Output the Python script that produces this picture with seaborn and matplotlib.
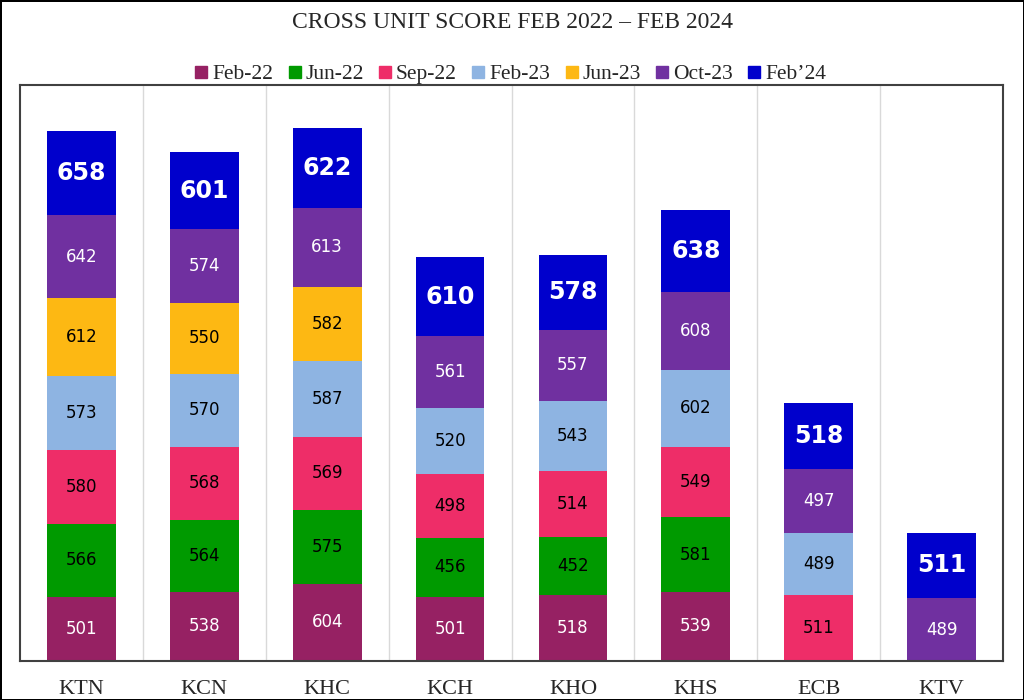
import matplotlib
matplotlib.use("Agg")
import matplotlib.pyplot as plt
import seaborn as sns
import numpy as np

# Datos del gráfico (0 = sin dato)
unidades = ["KTN", "KCN", "KHC", "KCH", "KHO", "KHS", "ECB", "KTV"]
series = ["Feb-22", "Jun-22", "Sep-22", "Feb-23", "Jun-23", "Oct-23", "Feb\u201924"]

feb22 = [501, 538, 604, 501, 518, 539, 0, 0]
jun22 = [566, 564, 575, 456, 452, 581, 0, 0]
sep22 = [580, 568, 569, 498, 514, 549, 511, 0]
feb23 = [573, 570, 587, 520, 543, 602, 489, 0]
jun23 = [612, 550, 582, 0, 0, 0, 0, 0]
oct23 = [642, 574, 613, 561, 557, 608, 497, 489]
feb24 = [658, 601, 622, 610, 578, 638, 518, 511]

valores = [feb22, jun22, sep22, feb23, jun23, oct23, feb24]
colores = ["#962163", "#009A00", "#EE2D68", "#8EB4E2", "#FDB813", "#7030A0", "#0000CC"]
color_texto = ["white", "black", "black", "black", "black", "white", "white"]

sns.set_style("white")
plt.rcParams["font.family"] = ["DejaVu Sans"]

fig = plt.figure(figsize=(10.24, 7), dpi=100, edgecolor="black", linewidth=2)
ax = fig.add_axes([20 / 1024, 39 / 700, 983 / 1024, 576 / 700])

base = np.zeros(len(unidades))
for nombre, vals, col, tc in zip(series, valores, colores, color_texto):
    vals = np.array(vals, dtype=float)
    sns.barplot(x=unidades, y=vals, bottom=base, color=col, width=0.56,
                saturation=1, ax=ax, label=nombre, linewidth=0)
    for i, v in enumerate(vals):
        if v > 0:
            centro = base[i] + v / 2
            if nombre == "Feb\u201924":
                ax.text(i, centro, f"{int(v)}", ha="center", va="center",
                        color="white", fontsize=17, fontweight="bold")
            else:
                ax.text(i, centro, f"{int(v)}", ha="center", va="center",
                        color=tc, fontsize=12)
    base = base + vals

ax.set_xlim(-0.5, len(unidades) - 0.5)
ax.set_ylim(0, 4490)
ax.set_yticks([])
ax.set_xlabel("")
ax.set_ylabel("")
for x in np.arange(0.5, len(unidades) - 0.5, 1):
    ax.axvline(x, color="#D9D9D9", linewidth=1, zorder=0)
for s in ax.spines.values():
    s.set_color("#404040")
    s.set_linewidth(1.5)

ax.set_xticks(range(len(unidades)))
ax.set_xticklabels(unidades, family=["Liberation Serif"], fontsize=16)
ax.tick_params(axis="x", length=0, pad=14)

if ax.get_legend():
    ax.get_legend().remove()
handles = [plt.Line2D([0], [0], marker="s", linestyle="", markersize=9,
                      markerfacecolor=c, markeredgecolor=c) for c in colores]
fig.legend(handles, series, loc="center", bbox_to_anchor=(0.497, 1 - 74 / 700),
           ncol=7, frameon=False, prop={"family": "Liberation Serif", "size": 15.5},
           handletextpad=0.05, columnspacing=0.55, handlelength=0.9)

fig.text(0.5, 1 - 23 / 700, "CROSS UNIT SCORE FEB 2022 \u2013 FEB 2024",
         ha="center", va="center", family=["Liberation Serif"], fontsize=17)

fig.savefig("out.png", dpi=100, edgecolor=fig.get_edgecolor())
